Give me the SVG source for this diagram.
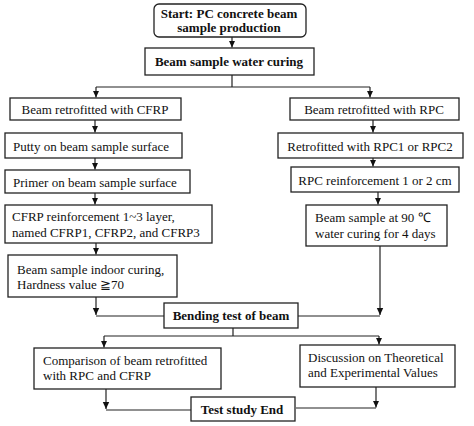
<svg xmlns="http://www.w3.org/2000/svg" width="474" height="426" viewBox="0 0 474 426">
<style>
.b{fill:#fff;stroke:#222;stroke-width:1.3}
.t{font-family:"Liberation Serif","Times New Roman",serif;font-size:13px;fill:#111}
.bd{font-weight:bold}
.c{fill:none;stroke:#222;stroke-width:1.2}
</style>
<defs>
<marker id="a" markerWidth="8" markerHeight="8" refX="7" refY="4" orient="auto" markerUnits="userSpaceOnUse">
<path d="M0,0.8 L7,4 L0,7.2 Z" fill="#111"/>
</marker>
</defs>
<rect width="474" height="426" fill="#fff"/>
<g id="connectors">
<path class="c" d="M232,37 V47.5" marker-end="url(#a)"/>
<path class="c" d="M232,75 V87 M96,87 H370"/>
<path class="c" d="M96,87 V97.5" marker-end="url(#a)"/>
<path class="c" d="M370,87 V97.5" marker-end="url(#a)"/>
<path class="c" d="M95,120 V132.5" marker-end="url(#a)"/>
<path class="c" d="M95,158 V169.5" marker-end="url(#a)"/>
<path class="c" d="M95,193 V204.5" marker-end="url(#a)"/>
<path class="c" d="M96,243 V254.5" marker-end="url(#a)"/>
<path class="c" d="M373,120 V132.5" marker-end="url(#a)"/>
<path class="c" d="M373,158 V166.5" marker-end="url(#a)"/>
<path class="c" d="M378,192 V204.5" marker-end="url(#a)"/>
<path class="c" d="M96,297 V315" marker-end="url(#a)"/>
<path class="c" d="M96,316 H164 M298,316 H380"/>
<path class="c" d="M380,246 V315" marker-end="url(#a)"/>
<path class="c" d="M233,328 V336 M104,336 H379"/>
<path class="c" d="M104,336 V347.5" marker-end="url(#a)"/>
<path class="c" d="M379,336 V344.5" marker-end="url(#a)"/>
<path class="c" d="M106,389 V409" marker-end="url(#a)"/>
<path class="c" d="M106,410 H191 M296,408 H376"/>
<path class="c" d="M376,387 V407.5" marker-end="url(#a)"/>
</g>
<g id="start">
<rect class="b" x="154" y="4" width="152" height="33" rx="5"/>
<text class="t bd" x="229" y="18" text-anchor="middle">Start: PC concrete beam</text>
<text class="t bd" x="229" y="32" text-anchor="middle">sample production</text>
</g>
<g id="water">
<rect class="b" x="145" y="48" width="169" height="27"/>
<text class="t bd" x="229" y="66" text-anchor="middle">Beam sample water curing</text>
</g>
<g id="cfrp">
<rect class="b" x="10" y="98" width="171" height="22"/>
<text class="t" x="95" y="114" text-anchor="middle">Beam retrofitted with CFRP</text>
</g>
<g id="putty">
<rect class="b" x="5" y="133" width="177" height="25"/>
<text class="t" x="13" y="151">Putty on beam sample surface</text>
</g>
<g id="primer">
<rect class="b" x="5" y="170" width="185" height="23"/>
<text class="t" x="13" y="187">Primer on beam sample surface</text>
</g>
<g id="cfrpreinf">
<rect class="b" x="5" y="205" width="207" height="38"/>
<text class="t" x="12" y="221">CFRP reinforcement 1~3 layer,</text>
<text class="t" x="12" y="237">named CFRP1, CFRP2, and CFRP3</text>
</g>
<g id="indoor">
<rect class="b" x="8" y="255" width="169" height="42"/>
<text class="t" x="17" y="274">Beam sample indoor curing,</text>
<text class="t" x="17" y="289">Hardness value ≧70</text>
</g>
<g id="rpc">
<rect class="b" x="290" y="98" width="169" height="22"/>
<text class="t" x="374" y="114" text-anchor="middle">Beam retrofitted with RPC</text>
</g>
<g id="rpc12">
<rect class="b" x="278" y="133" width="185" height="25"/>
<text class="t" x="370" y="151" text-anchor="middle">Retrofitted with RPC1 or RPC2</text>
</g>
<g id="rpcreinf">
<rect class="b" x="291" y="167" width="168" height="25"/>
<text class="t" x="375" y="185" text-anchor="middle">RPC reinforcement 1 or 2 cm</text>
</g>
<g id="at90">
<rect class="b" x="306" y="205" width="141" height="41"/>
<text class="t" x="315" y="222">Beam sample at 90 ℃</text>
<text class="t" x="315" y="238">water curing for 4 days</text>
</g>
<g id="bending">
<rect class="b" x="164" y="303" width="134" height="25"/>
<text class="t bd" x="231" y="320" text-anchor="middle">Bending test of beam</text>
</g>
<g id="comparison">
<rect class="b" x="34" y="348" width="187" height="41"/>
<text class="t" x="43" y="365">Comparison of beam retrofitted</text>
<text class="t" x="43" y="380">with RPC and CFRP</text>
</g>
<g id="discussion">
<rect class="b" x="300" y="345" width="155" height="42"/>
<text class="t" x="308" y="362">Discussion on Theoretical</text>
<text class="t" x="308" y="377">and Experimental Values</text>
</g>
<g id="end">
<rect class="b" x="191" y="397" width="104" height="24"/>
<text class="t bd" x="242" y="414" text-anchor="middle">Test study End</text>
</g>
</svg>
